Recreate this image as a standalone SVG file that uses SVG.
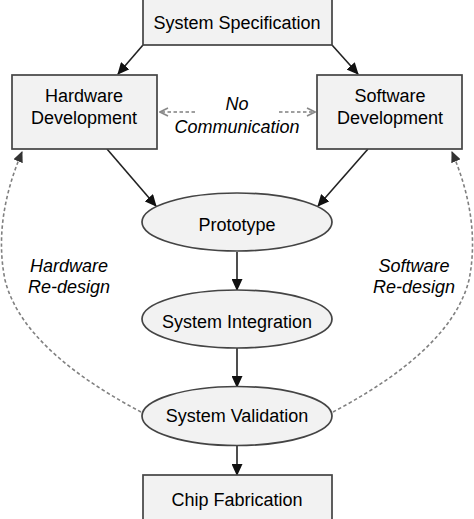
<svg xmlns="http://www.w3.org/2000/svg" width="474" height="519" viewBox="0 0 474 519">
<defs>
<style>
.box{fill:#f2f2f2;stroke:#444;stroke-width:1.7}
.t{font-family:"Liberation Sans",Arial,sans-serif;font-size:18px;fill:#000;text-anchor:middle}
.i{font-style:italic}
.a{fill:none;stroke:#222;stroke-width:1.6}
.d{fill:none;stroke:#808080;stroke-width:1.6;stroke-dasharray:3.5 2.5}
</style>
<marker id="ah" markerWidth="12" markerHeight="11" refX="11" refY="5.5" orient="auto" markerUnits="userSpaceOnUse" viewBox="0 0 12 11">
<path d="M0,0 L12,5.5 L0,11 Z" fill="#111"/>
</marker>
<marker id="ahd" markerWidth="11" markerHeight="10" refX="10" refY="5" orient="auto" markerUnits="userSpaceOnUse" viewBox="0 0 11 10">
<path d="M0,0 L11,5 L0,10 Z" fill="#333"/>
</marker>
<marker id="open" markerWidth="10" markerHeight="10" refX="9" refY="5" orient="auto" markerUnits="userSpaceOnUse" viewBox="0 0 10 10">
<path d="M1,1 L9,5 L1,9" fill="none" stroke="#888" stroke-width="1.6"/>
</marker>
</defs>
<g id="connectors">
<line class="a" x1="143" y1="45" x2="118" y2="74" marker-end="url(#ah)"/>
<line class="a" x1="332" y1="45" x2="358" y2="74" marker-end="url(#ah)"/>
<line class="a" x1="107" y1="149" x2="156" y2="206" marker-end="url(#ah)"/>
<line class="a" x1="368" y1="149" x2="318" y2="206" marker-end="url(#ah)"/>
<line class="a" x1="237" y1="252" x2="237" y2="290" marker-end="url(#ah)"/>
<line class="a" x1="237" y1="348" x2="237" y2="387" marker-end="url(#ah)"/>
<line class="a" x1="237" y1="446" x2="237" y2="475" marker-end="url(#ah)"/>
<line class="d" x1="195" y1="112" x2="160" y2="112" marker-end="url(#open)"/>
<line class="d" x1="279" y1="112" x2="315" y2="112" marker-end="url(#open)"/>
<path class="d" d="M141,412 C90,385 20,340 5,280 C-5,230 8,185 22,152" marker-end="url(#ahd)"/>
<path class="d" d="M333,412 C384,385 454,340 469,280 C479,230 466,185 452,152" marker-end="url(#ahd)"/>
</g>
<g id="spec"><rect class="box" x="143" y="-1" width="189" height="46"/><text class="t" x="237" y="29">System Specification</text></g>
<g id="hw"><rect class="box" x="12" y="75" width="145" height="74"/><text class="t" x="84" y="102">Hardware</text><text class="t" x="84" y="124">Development</text></g>
<g id="sw"><rect class="box" x="317" y="75" width="145" height="74"/><text class="t" x="390" y="102">Software</text><text class="t" x="390" y="124">Development</text></g>
<g id="nocomm"><text class="t i" x="237" y="110">No</text><text class="t i" x="237" y="133">Communication</text></g>
<g id="proto"><ellipse class="box" cx="237" cy="222" rx="95" ry="29"/><text class="t" x="237" y="231">Prototype</text></g>
<g id="integ"><ellipse class="box" cx="237" cy="319" rx="95" ry="29"/><text class="t" x="237" y="328">System Integration</text></g>
<g id="valid"><ellipse class="box" cx="237" cy="416" rx="95" ry="29.5"/><text class="t" x="237" y="422">System Validation</text></g>
<g id="chip"><rect class="box" x="143" y="475" width="189" height="50"/><text class="t" x="237" y="506">Chip Fabrication</text></g>
<g id="hwre"><text class="t i" x="69" y="272">Hardware</text><text class="t i" x="69" y="293">Re-design</text></g>
<g id="swre"><text class="t i" x="414" y="272">Software</text><text class="t i" x="414" y="293">Re-design</text></g>
</svg>
